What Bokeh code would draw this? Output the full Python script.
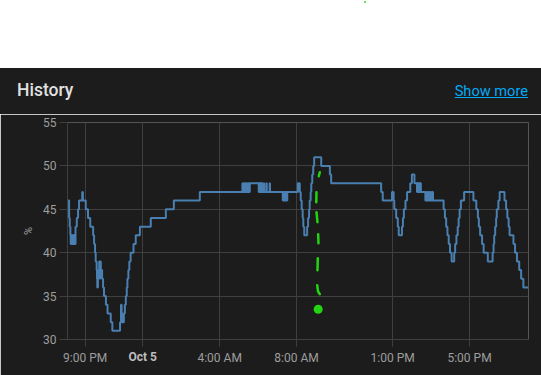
from bokeh.plotting import figure
from bokeh.models import FixedTicker, Range1d, Div, LinearAxis
from bokeh.layouts import column
from bokeh.embed import file_html
from bokeh.resources import INLINE

# Humidity history: minutes after Oct 4 20:00 and value (%) that starts at that minute
minutes = [5, 10, 12, 14, 15, 18, 20, 22, 23, 25, 26, 30, 34, 38, 41, 51, 53, 62, 69, 76,
           85, 88, 91, 93, 96, 97, 98, 100, 101, 104, 106, 107, 109, 113, 116, 119, 125, 130, 140, 145,
           169, 172, 174, 177, 178, 181, 184, 187, 190, 192, 195, 198, 202, 211, 218, 231, 265, 312, 337, 418,
           551, 553, 556, 559, 562, 565, 568, 571, 574, 602, 604, 606, 608, 610, 612, 614, 618, 619, 626, 627,
           636, 637, 677, 679, 681, 683, 685, 687, 689, 691, 724, 730, 733, 736, 739, 741, 744, 753, 756, 759,
           761, 764, 766, 769, 772, 775, 797, 824, 828, 984, 989, 1018, 1023, 1025, 1031, 1036, 1039, 1049, 1052, 1055,
           1060, 1065, 1075, 1080, 1088, 1096, 1098, 1100, 1102, 1104, 1106, 1108, 1122, 1125, 1128, 1131, 1134, 1137, 1140, 1143,
           1146, 1179, 1183, 1187, 1191, 1195, 1199, 1204, 1212, 1215, 1219, 1223, 1226, 1229, 1233, 1243, 1272, 1281, 1286, 1289,
           1293, 1299, 1304, 1317, 1332, 1335, 1337, 1340, 1343, 1345, 1350, 1354, 1369, 1374, 1378, 1382, 1385, 1397, 1402, 1408,
           1415, 1421, 1428, 1443]
humidity = [46, 44, 43, 42, 41, 42, 41, 42, 41, 42, 41, 43, 44, 45, 46, 47, 46, 45, 44, 43,
            42, 41, 40, 39, 38, 37, 36, 37, 38, 39, 37, 39, 38, 37, 36, 35, 34, 33, 32, 31,
            32, 34, 32, 33, 32, 33, 34, 35, 36, 37, 38, 39, 40, 41, 42, 43, 44, 45, 46, 47,
            48, 47, 48, 47, 48, 47, 48, 47, 48, 47, 48, 47, 48, 47, 48, 47, 48, 47, 48, 47,
            48, 47, 46, 47, 46, 47, 46, 47, 46, 47, 48, 47, 46, 45, 44, 43, 42, 43, 44, 45,
            46, 47, 48, 49, 50, 51, 50, 49, 48, 47, 46, 47, 46, 45, 44, 43, 42, 43, 44, 45,
            46, 47, 48, 49, 48, 47, 48, 47, 48, 47, 48, 47, 46, 47, 46, 47, 46, 47, 46, 47,
            46, 45, 44, 43, 42, 41, 40, 39, 40, 41, 42, 43, 44, 45, 46, 47, 46, 45, 44, 43,
            42, 41, 40, 39, 40, 41, 42, 43, 44, 45, 46, 47, 46, 45, 44, 43, 42, 41, 40, 39,
            38, 37, 36, 36]

# x-axis ticks (hours after Oct 4 20:00) and their labels
tick_hours = [1, 4, 8, 12, 17, 21]
tick_labels = ["9:00 PM", "Oct 5", "4:00 AM", "8:00 AM", "1:00 PM", "5:00 PM"]
date_tick = 4
y_ticks = [30, 35, 40, 45, 50, 55]

# green hand-drawn annotation (dashes + dot), minutes / value
dash_minutes = [[789.4, 792.5], [782.2, 781.6], [782.2, 785.3], [787.5, 788.4], [786.2, 785.3], [784.4, 786.9, 792.5]]
dash_values = [[48.81, 49.27], [46.97, 45.82], [44.67, 43.51], [42.13, 41.09], [39.37, 37.98], [36.26, 35.56, 35.22]]
dot_minute = [787.5]
dot_value = [33.49]

BG = "#1c1c1c"
GRID = "#3f3f3f"
TICK_TXT = "#9e9e9e"
FONT = "Roboto"

hours = [m / 60 for m in minutes]

# white page area above the card (with the stray green speck)
top_area = Div(
    text=('<div style="position:relative;width:541px;height:68px;">'
          '<span style="position:absolute;left:364px;top:1px;width:2px;height:2px;'
          'background:#6be05a;"></span></div>'),
    width=541, height=68, margin=0,
)

header = Div(
    text=(
        '<div style="position:relative;width:541px;height:46px;">'
        '<span style="position:absolute;left:17px;top:14px;font-family:Roboto;font-size:17.5px;'
        'font-weight:500;line-height:17px;color:#e1e1e1;white-space:nowrap;">History</span>'
        '<span style="position:absolute;right:13px;top:15.5px;font-family:Roboto;font-size:14.6px;'
        'line-height:15px;color:#03a9f4;text-decoration:underline;white-space:nowrap;">Show more</span>'
        '</div>'
    ),
    width=541, height=46, margin=0,
    styles={"background-color": BG},
)

p = figure(width=541, height=261, output_backend="svg", toolbar_location=None,
           x_range=Range1d(5 / 60, 1444 / 60), y_range=Range1d(30, 55),
           min_border_left=67, min_border_right=13, min_border_top=8, min_border_bottom=36)
p.background_fill_color = BG
p.border_fill_color = BG
p.outline_line_color = None

p.step(hours, humidity, mode="after", line_color="#4a7fb1", line_width=2)

p.multi_line([[m / 60 for m in seg] for seg in dash_minutes], dash_values,
             line_color="#22d411", line_width=2.5, line_cap="round")
p.scatter([m / 60 for m in dot_minute], dot_value, size=9, fill_color="#22d411", line_color=None)

# axes
for ax in (p.xaxis[0], p.yaxis[0]):
    ax.axis_line_color = GRID
    ax.major_tick_line_color = GRID
    ax.major_tick_in = 0
    ax.major_tick_out = 8
    ax.minor_tick_line_color = None
    ax.major_label_text_font = FONT
    ax.major_label_text_font_size = "12px"
    ax.major_label_text_color = TICK_TXT

p.xaxis.ticker = FixedTicker(ticks=tick_hours)
overrides = {h: lab for h, lab in zip(tick_hours, tick_labels)}
overrides[date_tick] = ""
p.xaxis.major_label_overrides = overrides
p.xaxis.major_tick_out = 7
p.xaxis.major_label_standoff = 4

# bold date label on a second (label-only) axis pulled up into the first axis' label row
date_axis = LinearAxis(ticker=FixedTicker(ticks=[date_tick]),
                       major_label_overrides={date_tick: tick_labels[tick_hours.index(date_tick)]},
                       axis_line_color=None, major_tick_line_color=None, minor_tick_line_color=None,
                       major_tick_in=0, major_tick_out=0, major_label_standoff=-18,
                       major_label_text_font=FONT, major_label_text_font_size="12px",
                       major_label_text_font_style="bold", major_label_text_color="#bdbdbd")
p.add_layout(date_axis, "below")

p.yaxis.ticker = FixedTicker(ticks=y_ticks)
p.yaxis.major_label_standoff = 3
p.yaxis.axis_label = "%"
p.yaxis.axis_label_text_font = FONT
p.yaxis.axis_label_text_font_size = "11px"
p.yaxis.axis_label_text_font_style = "normal"
p.yaxis.axis_label_text_color = TICK_TXT
p.yaxis.axis_label_standoff = 5

p.xgrid.ticker = FixedTicker(ticks=tick_hours)
p.ygrid.ticker = FixedTicker(ticks=y_ticks)
p.grid.grid_line_color = GRID

layout = column(top_area, header, p, spacing=0)

open("out.html", "w").write(file_html(layout, INLINE))
